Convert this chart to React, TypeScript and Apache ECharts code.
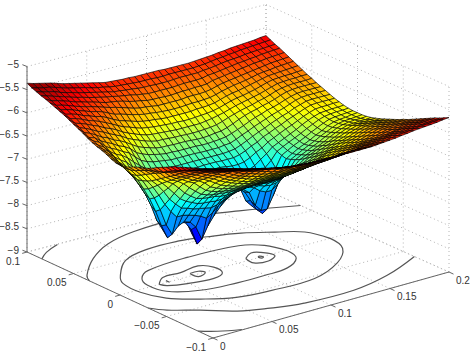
import React, { useEffect, useRef } from "react";
import * as echarts from "echarts";

const xTicks = [0, 0.05, 0.1, 0.15, 0.2];
const yTicks = [0.1, 0.05, 0, -0.05, -0.1];
const zTicks = [-5, -5.5, -6, -6.5, -7, -7.5, -8, -8.5, -9];
const xLabels = ["0", "0.05", "0.1", "0.15", "0.2"];
const yLabels = ["0.1", "0.05", "0", "\u22120.05", "\u22120.1"];
const zLabels = ["\u22125", "\u22125.5", "\u22126", "\u22126.5", "\u22127", "\u22127.5", "\u22128", "\u22128.5", "\u22129"];

// Surface heights: one row per x step (41 steps, 0..0.2),
// one value per |y| step (21 steps, 0..0.1). The surface is mirrored about y = 0.
const zByColumn = [
[-6.20,-6.19,-6.15,-6.10,-6.06,-6.03,-5.99,-5.94,-5.88,-5.83,-5.78,-5.73,-5.68,-5.64,-5.60,-5.56,-5.52,-5.49,-5.45,-5.41,-5.36],
[-6.30,-6.29,-6.26,-6.21,-6.16,-6.12,-6.08,-6.04,-6.01,-5.95,-5.89,-5.84,-5.79,-5.74,-5.69,-5.64,-5.59,-5.53,-5.49,-5.45,-5.40],
[-6.47,-6.44,-6.39,-6.33,-6.27,-6.21,-6.16,-6.10,-6.05,-6.00,-5.94,-5.88,-5.82,-5.77,-5.72,-5.67,-5.62,-5.57,-5.52,-5.48,-5.43],
[-6.62,-6.59,-6.55,-6.50,-6.43,-6.36,-6.29,-6.22,-6.15,-6.07,-6.00,-5.93,-5.87,-5.81,-5.76,-5.71,-5.66,-5.61,-5.55,-5.50,-5.46],
[-6.85,-6.80,-6.72,-6.63,-6.54,-6.46,-6.38,-6.30,-6.22,-6.15,-6.07,-5.99,-5.93,-5.87,-5.81,-5.76,-5.70,-5.65,-5.60,-5.54,-5.49],
[-7.10,-7.03,-6.93,-6.80,-6.68,-6.54,-6.44,-6.36,-6.28,-6.20,-6.12,-6.04,-5.97,-5.91,-5.85,-5.80,-5.75,-5.69,-5.64,-5.58,-5.53],
[-7.40,-7.32,-7.16,-7.00,-6.83,-6.67,-6.53,-6.44,-6.36,-6.28,-6.19,-6.11,-6.02,-5.96,-5.90,-5.84,-5.78,-5.73,-5.67,-5.62,-5.57],
[-7.75,-7.68,-7.35,-7.14,-6.98,-6.81,-6.65,-6.50,-6.41,-6.33,-6.25,-6.16,-6.08,-5.99,-5.93,-5.87,-5.82,-5.76,-5.71,-5.65,-5.60],
[-8.04,-7.92,-7.50,-7.26,-7.07,-6.91,-6.76,-6.62,-6.49,-6.40,-6.31,-6.22,-6.14,-6.05,-5.97,-5.91,-5.85,-5.80,-5.74,-5.68,-5.63],
[-7.85,-7.78,-7.50,-7.30,-7.13,-7.00,-6.86,-6.73,-6.61,-6.48,-6.39,-6.30,-6.21,-6.12,-6.03,-5.95,-5.89,-5.83,-5.77,-5.71,-5.66],
[-7.78,-7.72,-7.53,-7.35,-7.19,-7.03,-6.91,-6.79,-6.67,-6.56,-6.45,-6.36,-6.27,-6.18,-6.09,-5.99,-5.93,-5.86,-5.80,-5.75,-5.69],
[-7.82,-7.76,-7.57,-7.38,-7.21,-7.05,-6.94,-6.83,-6.72,-6.61,-6.50,-6.41,-6.31,-6.22,-6.12,-6.02,-5.95,-5.89,-5.83,-5.78,-5.72],
[-8.00,-7.90,-7.62,-7.40,-7.22,-7.06,-6.95,-6.85,-6.75,-6.65,-6.55,-6.46,-6.36,-6.26,-6.16,-6.06,-5.97,-5.91,-5.86,-5.80,-5.75],
[-8.35,-8.20,-7.70,-7.43,-7.24,-7.09,-6.97,-6.87,-6.78,-6.69,-6.59,-6.50,-6.40,-6.30,-6.20,-6.10,-6.00,-5.94,-5.89,-5.83,-5.78],
[-8.05,-7.95,-7.62,-7.40,-7.23,-7.10,-6.98,-6.89,-6.80,-6.71,-6.62,-6.52,-6.42,-6.33,-6.23,-6.14,-6.04,-5.96,-5.90,-5.85,-5.79],
[-7.80,-7.77,-7.50,-7.34,-7.20,-7.09,-6.98,-6.89,-6.80,-6.71,-6.62,-6.53,-6.44,-6.35,-6.26,-6.17,-6.07,-5.98,-5.92,-5.86,-5.80],
[-7.65,-7.62,-7.42,-7.29,-7.17,-7.07,-6.98,-6.89,-6.81,-6.72,-6.63,-6.54,-6.45,-6.36,-6.27,-6.18,-6.09,-6.01,-5.93,-5.87,-5.81],
[-7.53,-7.50,-7.35,-7.24,-7.15,-7.06,-6.98,-6.89,-6.81,-6.72,-6.64,-6.55,-6.46,-6.38,-6.29,-6.20,-6.12,-6.03,-5.95,-5.88,-5.81],
[-7.45,-7.42,-7.28,-7.20,-7.13,-7.05,-6.98,-6.89,-6.81,-6.72,-6.64,-6.56,-6.47,-6.39,-6.30,-6.22,-6.13,-6.05,-5.96,-5.89,-5.82],
[-7.40,-7.38,-7.26,-7.19,-7.12,-7.05,-6.98,-6.90,-6.81,-6.73,-6.65,-6.56,-6.47,-6.39,-6.31,-6.22,-6.13,-6.05,-5.96,-5.89,-5.82],
[-7.40,-7.37,-7.27,-7.20,-7.12,-7.05,-6.98,-6.90,-6.82,-6.74,-6.65,-6.56,-6.48,-6.39,-6.31,-6.22,-6.14,-6.05,-5.97,-5.89,-5.82],
[-7.50,-7.47,-7.32,-7.23,-7.14,-7.06,-6.98,-6.90,-6.82,-6.74,-6.65,-6.56,-6.48,-6.39,-6.31,-6.22,-6.14,-6.05,-5.97,-5.90,-5.82],
[-7.72,-7.78,-7.42,-7.27,-7.16,-7.06,-6.98,-6.90,-6.81,-6.73,-6.64,-6.56,-6.47,-6.39,-6.30,-6.22,-6.13,-6.05,-5.97,-5.90,-5.82],
[-7.95,-7.92,-7.48,-7.29,-7.16,-7.06,-6.97,-6.88,-6.80,-6.71,-6.63,-6.54,-6.46,-6.37,-6.29,-6.20,-6.12,-6.04,-5.96,-5.89,-5.83],
[-8.07,-7.93,-7.48,-7.27,-7.14,-7.03,-6.95,-6.87,-6.78,-6.70,-6.61,-6.52,-6.45,-6.37,-6.29,-6.20,-6.12,-6.03,-5.95,-5.89,-5.83],
[-7.78,-7.68,-7.38,-7.21,-7.08,-6.98,-6.90,-6.82,-6.74,-6.66,-6.57,-6.49,-6.43,-6.36,-6.28,-6.20,-6.11,-6.03,-5.95,-5.89,-5.83],
[-7.45,-7.40,-7.24,-7.11,-7.00,-6.91,-6.84,-6.76,-6.69,-6.61,-6.52,-6.46,-6.40,-6.34,-6.27,-6.19,-6.11,-6.03,-5.95,-5.89,-5.83],
[-7.26,-7.24,-7.12,-7.02,-6.94,-6.86,-6.78,-6.71,-6.64,-6.55,-6.48,-6.42,-6.36,-6.30,-6.24,-6.17,-6.10,-6.02,-5.95,-5.89,-5.83],
[-7.03,-7.00,-6.96,-6.91,-6.85,-6.78,-6.72,-6.65,-6.58,-6.50,-6.44,-6.38,-6.32,-6.26,-6.20,-6.13,-6.06,-5.99,-5.93,-5.88,-5.82],
[-6.95,-6.93,-6.89,-6.85,-6.79,-6.73,-6.67,-6.60,-6.53,-6.46,-6.41,-6.35,-6.29,-6.23,-6.17,-6.10,-6.04,-5.98,-5.92,-5.87,-5.81],
[-6.88,-6.86,-6.83,-6.79,-6.73,-6.67,-6.61,-6.55,-6.49,-6.43,-6.38,-6.32,-6.27,-6.21,-6.14,-6.08,-6.02,-5.96,-5.90,-5.85,-5.80],
[-6.82,-6.80,-6.77,-6.73,-6.67,-6.62,-6.56,-6.50,-6.44,-6.39,-6.34,-6.29,-6.24,-6.18,-6.12,-6.06,-6.00,-5.94,-5.88,-5.83,-5.79],
[-6.76,-6.74,-6.71,-6.67,-6.62,-6.56,-6.51,-6.46,-6.41,-6.36,-6.31,-6.26,-6.21,-6.15,-6.10,-6.04,-5.98,-5.92,-5.86,-5.82,-5.77],
[-6.69,-6.67,-6.64,-6.60,-6.56,-6.51,-6.47,-6.42,-6.37,-6.32,-6.27,-6.22,-6.17,-6.12,-6.07,-6.02,-5.96,-5.90,-5.85,-5.80,-5.76],
[-6.63,-6.61,-6.58,-6.54,-6.50,-6.46,-6.41,-6.37,-6.32,-6.27,-6.22,-6.18,-6.13,-6.09,-6.04,-6.00,-5.94,-5.89,-5.84,-5.79,-5.74],
[-6.56,-6.55,-6.52,-6.49,-6.45,-6.41,-6.37,-6.32,-6.28,-6.23,-6.19,-6.14,-6.10,-6.06,-6.02,-5.98,-5.92,-5.87,-5.82,-5.77,-5.73],
[-6.51,-6.50,-6.48,-6.45,-6.41,-6.37,-6.33,-6.29,-6.25,-6.21,-6.17,-6.13,-6.09,-6.05,-6.01,-5.96,-5.91,-5.86,-5.81,-5.76,-5.72],
[-6.49,-6.48,-6.46,-6.44,-6.40,-6.36,-6.32,-6.28,-6.24,-6.20,-6.16,-6.12,-6.08,-6.04,-5.99,-5.94,-5.89,-5.84,-5.80,-5.75,-5.71],
[-6.48,-6.47,-6.45,-6.43,-6.40,-6.36,-6.32,-6.28,-6.24,-6.20,-6.16,-6.12,-6.08,-6.03,-5.98,-5.93,-5.88,-5.83,-5.79,-5.74,-5.70],
[-6.46,-6.46,-6.45,-6.43,-6.39,-6.36,-6.32,-6.28,-6.24,-6.20,-6.16,-6.11,-6.07,-6.02,-5.97,-5.92,-5.87,-5.82,-5.78,-5.73,-5.68],
[-6.45,-6.45,-6.44,-6.42,-6.39,-6.36,-6.32,-6.28,-6.24,-6.20,-6.15,-6.11,-6.06,-6.01,-5.96,-5.91,-5.86,-5.81,-5.77,-5.72,-5.67],
];

// Contour curves on the floor, [x, y].
const contourCorner1 = [[0, 0.084], [0.01, 0.092], [0.025, 0.0994]];
const contourCorner2 = [[0, -0.084], [0.01, -0.092], [0.025, -0.0994]];
const contour6a = [[0, 0.0328], [0.0054, 0.0424], [0.028, 0.0646], [0.0526, 0.0806], [0.081, 0.089], [0.12, 0.091], [0.161, 0.0786], [0.2, 0.0622]];
const contour6b = [[0, -0.0302], [0.0076, -0.0408], [0.0252, -0.0542], [0.0436, -0.0706], [0.0644, -0.0796], [0.088, -0.0862], [0.129, -0.0876], [0.1638, -0.0792], [0.2, -0.0622]];
const contour65 = [[0.177, 0], [0.171, 0.02], [0.155, 0.032], [0.136, 0.044], [0.114, 0.052], [0.094, 0.057], [0.067, 0.057], [0.043, 0.049], [0.023, 0.029], [0.015, 0.016], [0.014, -0.004], [0.021, -0.023], [0.038, -0.038], [0.059, -0.05], [0.085, -0.054], [0.122, -0.054], [0.152, -0.04], [0.172, -0.02], [0.177, 0]];
const contour7 = [[0.14, -0.002], [0.134, 0.016], [0.12, 0.026], [0.08, 0.029], [0.043, 0.025], [0.031, 0.016], [0.026, 0.004], [0.029, -0.013], [0.048, -0.025], [0.077, -0.029], [0.099, -0.029], [0.12, -0.027], [0.136, -0.016], [0.14, -0.002]];
const contour75a = [[0.033, 0], [0.043, 0.009], [0.058, 0.009], [0.075, 0.012], [0.082, 0.004], [0.08, -0.008], [0.069, -0.013], [0.049, -0.01], [0.036, -0.005], [0.033, 0]];
const contour75b = [[0.109, 0.004], [0.118, 0.01], [0.124, 0.007], [0.128, -0.003], [0.118, -0.009], [0.108, -0.006], [0.109, 0.004]];
const contour8a = [[0.062, 0.004], [0.069, 0.004], [0.071, -0.001], [0.063, -0.004], [0.062, 0.004]];
const contour8b = [[0.117, 0.001], [0.119, 0.002], [0.12, -0.001], [0.118, -0.002], [0.117, 0.001]];
const contour8c = [[0.041, 0.003], [0.041, -0.001]];
const contours = [contourCorner1, contourCorner2, contour6a, contour6b, contour65, contour7, contour75a, contour75b, contour8a, contour8b, contour8c];

// Height-to-colormap stops.
const colorZ = [-8.35, -7.95, -7.15, -5.36];
const colorT = [0.03, 0.2, 0.375, 1];

function colorPos(z: number): number {
  for (let k = 0; k < colorZ.length - 1; k++) {
    if (z <= colorZ[k + 1]) {
      const f = Math.max(0, (z - colorZ[k]) / (colorZ[k + 1] - colorZ[k]));
      return colorT[k] + f * (colorT[k + 1] - colorT[k]);
    }
  }
  return 1;
}

function project(x: number, y: number, z: number): [number, number] {
  const u = x / 0.2;
  const v = (y + 0.1) / 0.2;
  const w = (z + 9) / 4;
  const a = (1 - u) * (1 - v), b = u * (1 - v), c = (1 - u) * v, d = u * v;
  const sx = a * 213 + b * 449 + c * 27 + d * 266;
  const sy = a * 338 + b * 272 + c * 252 + d * 190;
  return [sx, sy - w * 185.5];
}

function jet(t: number): string {
  const f = (x: number) => Math.max(0, Math.min(1, 1.5 - Math.abs(4 * x)));
  const r = f(t - 0.75), g = f(t - 0.5), b = f(t - 0.25);
  return `rgb(${Math.round(r * 255)},${Math.round(g * 255)},${Math.round(b * 255)})`;
}

const zAt = (i: number, j: number) => zByColumn[i][Math.abs(j - 20)];

export default function App() {
  const ref = useRef<HTMLDivElement>(null);
  useEffect(() => {
    const chart = echarts.init(ref.current!, undefined, { renderer: "svg" });

    const cells: number[][] = [];
    for (let i = 39; i >= 0; i--) for (let j = 39; j >= 0; j--) cells.push([i, j]);

    const zb = -9, zt = -5, x0 = 0, x1 = 0.2, y0 = -0.1, y1 = 0.1;
    const dotted: number[][] = [];
    xTicks.forEach((x) => {
      dotted.push([x, y1, zb, x, y1, zt]);
      dotted.push([x, y0, zb, x, y1, zb]);
    });
    yTicks.forEach((y) => {
      dotted.push([x1, y, zb, x1, y, zt]);
      dotted.push([x0, y, zb, x1, y, zb]);
    });
    zTicks.forEach((z) => {
      dotted.push([x0, y1, z, x1, y1, z]);
      dotted.push([x1, y1, z, x1, y0, z]);
    });

    const axisLines = [
      [x0, y1, zb, x0, y1, zt],
      [x0, y1, zb, x0, y0, zb],
      [x0, y0, zb, x1, y0, zb],
    ];

    const tickPix = (p: [number, number], dx: number, dy: number) => [p[0] + dx, p[1] + dy];
    const ticks: { a: [number, number]; b: number[] }[] = [];
    const labels: { p: number[]; text: string; align: string }[] = [];
    zTicks.forEach((z, k) => {
      const a = project(x0, y1, z);
      ticks.push({ a, b: tickPix(a, -4.6, -1.8) });
      labels.push({ p: tickPix(a, -8, -2), text: zLabels[k], align: "right" });
    });
    yTicks.forEach((y, k) => {
      const a = project(x0, y, zb);
      ticks.push({ a, b: tickPix(a, -4.8, 1.4) });
      labels.push({ p: tickPix(a, -7, 9), text: yLabels[k], align: "right" });
    });
    xTicks.forEach((x, k) => {
      const a = project(x, y0, zb);
      ticks.push({ a, b: tickPix(a, 4.5, 2.1) });
      labels.push({ p: tickPix(a, 7, 8), text: xLabels[k], align: "left" });
    });

    const lineSeries = (segs: number[][], style: any) => ({
      type: "custom",
      silent: true,
      clip: false,
      progressive: 0,
      data: segs.map((_, k) => [k, k]),
      renderItem: (params: any, api: any) => {
        const s = segs[params.dataIndex];
        const a = api.coord(project(s[0], s[1], s[2]));
        const b = api.coord(project(s[3], s[4], s[5]));
        return { type: "line", shape: { x1: a[0], y1: a[1], x2: b[0], y2: b[1] }, style };
      },
    });

    chart.setOption({
      animation: false,
      grid: { left: 0, right: 0, top: 0, bottom: 0 },
      xAxis: { type: "value", min: 0, max: 474, show: false },
      yAxis: { type: "value", min: 0, max: 351, inverse: true, show: false },
      series: [
        lineSeries(dotted, { stroke: "#b4b4b4", lineWidth: 1, lineDash: [1, 3], fill: "none" }),
        {
          type: "custom",
          silent: true,
          clip: false,
          progressive: 0,
          data: contours.map((_, k) => [k, k]),
          renderItem: (params: any, api: any) => ({
            type: "polyline",
            shape: {
              points: contours[params.dataIndex].map((p) => api.coord(project(p[0], p[1], -9))),
              smooth: 0.4,
            },
            style: { stroke: "#555", lineWidth: 1.2, fill: "none" },
          }),
        },
        {
          type: "custom",
          silent: true,
          clip: false,
          progressive: 0,
          data: cells,
          renderItem: (params: any, api: any) => {
            const [i, j] = cells[params.dataIndex];
            const corners = [[i, j], [i + 1, j], [i + 1, j + 1], [i, j + 1]];
            let sum = 0;
            const points = corners.map(([a, b]) => {
              const z = zAt(a, b);
              sum += z;
              return api.coord(project(a * 0.005, (b - 20) * 0.005, z));
            });
            return {
              type: "polygon",
              shape: { points },
              style: { fill: jet(colorPos(sum / 4)), stroke: "rgba(0,0,0,0.8)", lineWidth: 0.8 },
            };
          },
        },
        lineSeries(axisLines, { stroke: "#666", lineWidth: 1, fill: "none" }),
        {
          type: "custom",
          silent: true,
          clip: false,
          progressive: 0,
          data: ticks.map((_, k) => [k, k]),
          renderItem: (params: any, api: any) => {
            const t = ticks[params.dataIndex];
            const a = api.coord(t.a);
            const b = api.coord(t.b);
            return { type: "line", shape: { x1: a[0], y1: a[1], x2: b[0], y2: b[1] }, style: { stroke: "#666", lineWidth: 1 } };
          },
        },
        {
          type: "custom",
          silent: true,
          clip: false,
          progressive: 0,
          data: labels.map((_, k) => [k, k]),
          renderItem: (params: any, api: any) => {
            const l = labels[params.dataIndex];
            const p = api.coord(l.p);
            return {
              type: "text",
              style: {
                text: l.text,
                x: p[0],
                y: p[1],
                align: l.align,
                verticalAlign: "middle",
                font: '10px "Liberation Sans", Arial, sans-serif',
                fill: "#333",
              },
            };
          },
        },
      ],
    });
    return () => chart.dispose();
  }, []);
  return <div ref={ref} style={{ position: "absolute", left: 0, top: 0, width: 474, height: 351, background: "#fff" }} />;
}
